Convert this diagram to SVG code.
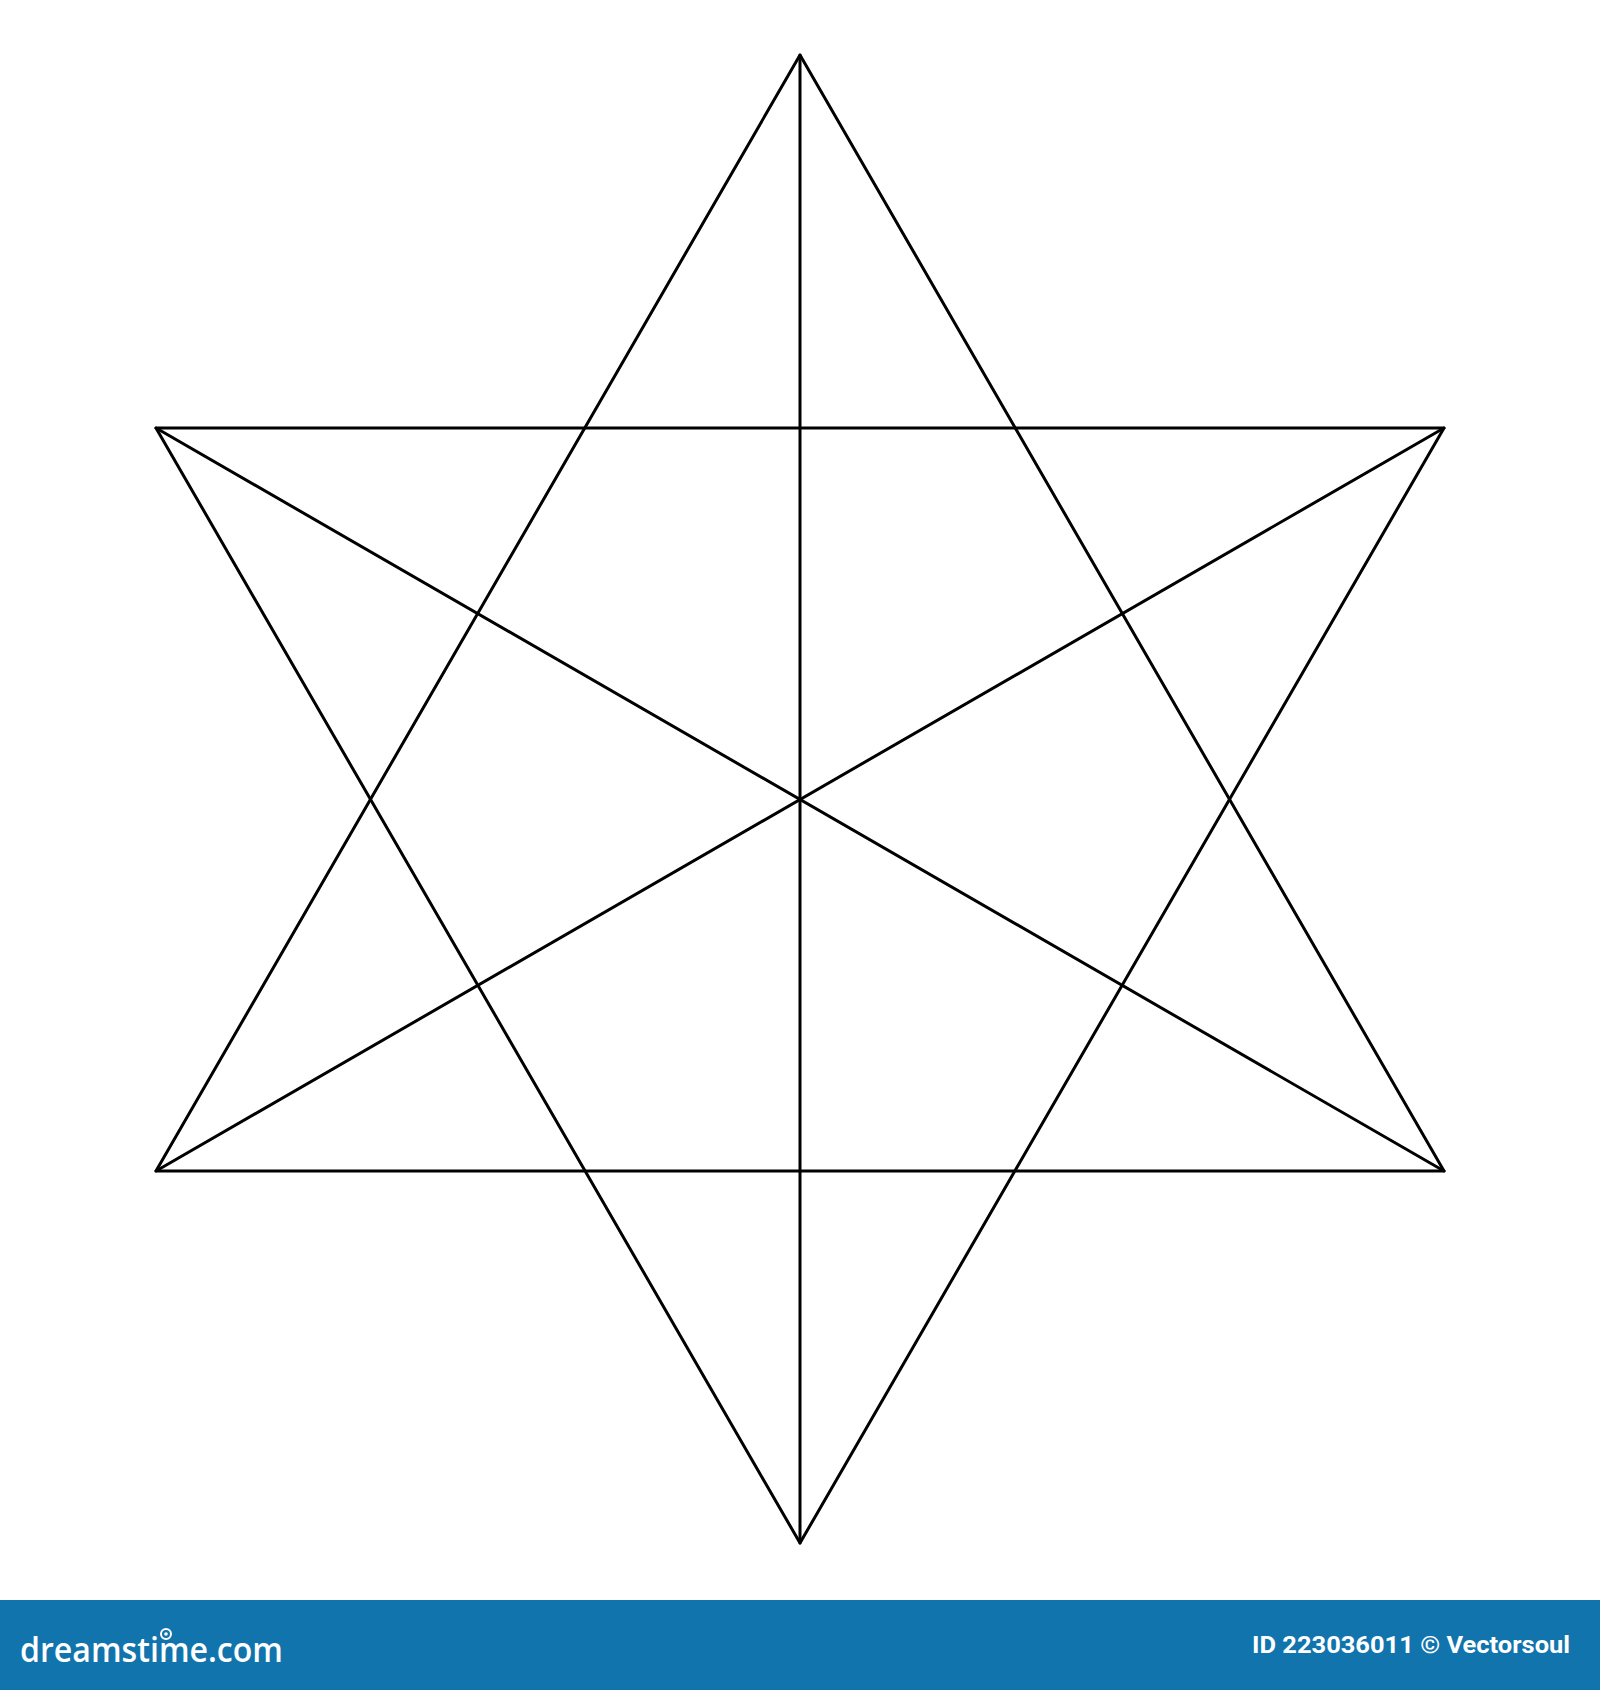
<svg xmlns="http://www.w3.org/2000/svg" width="1600" height="1690" viewBox="0 0 1600 1690">
<style>
.ln{stroke:#000;stroke-width:3;fill:none;stroke-linejoin:round;stroke-linecap:round}
.logo{font-family:"Open Sans","Liberation Sans",sans-serif;font-weight:600;font-size:35px;fill:#fff}
.id{font-family:Roboto,"Liberation Sans",sans-serif;font-weight:bold;font-size:24px;fill:#fff}
</style>
<rect width="1600" height="1690" fill="#fff"/>
<g id="connectors">
<polygon id="tri-up" class="ln" points="800,55 1444,1171 156,1171"/>
<polygon id="tri-down" class="ln" points="800,1543 156,428 1444,428"/>
<line class="ln" x1="800" y1="55" x2="800" y2="1543"/>
<line class="ln" x1="156" y1="428" x2="1444" y2="1171"/>
<line class="ln" x1="1444" y1="428" x2="156" y2="1171"/>
</g>
<g id="banner">
<rect x="0" y="1600" width="1600" height="90" fill="#1174ad"/>
<text class="logo" x="20" y="1662" textLength="263" lengthAdjust="spacingAndGlyphs">dreamstime.com</text>
<circle cx="166" cy="1634" r="5" fill="none" stroke="#fff" stroke-width="2"/>
<circle cx="166" cy="1634" r="1.8" fill="#fff"/>
<text class="id" x="1252" y="1653" textLength="318" lengthAdjust="spacingAndGlyphs">ID 223036011 © Vectorsoul</text>
</g>
</svg>
